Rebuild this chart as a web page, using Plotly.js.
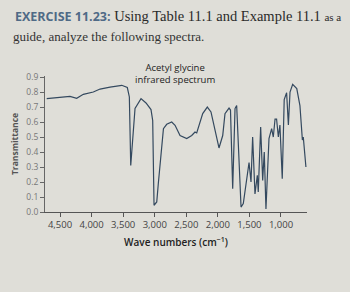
<!DOCTYPE html>
<html>
<head>
<meta charset="utf-8">
<script src="https://cdn.plot.ly/plotly-3.0.1.min.js"></script>
<style>
html,body{margin:0;padding:0;background:#dfded8;}
#chart{width:350px;height:292px;}
</style>
</head>
<body>
<div id="chart"></div>
<script>
// Wave numbers (cm^-1) and transmittance
const waveNumbers = [4711,4500,4342,4236,4131,3973,3866,3708,3523,3434,3402,3380,3312,3217,3138,3059,3032,3011,2968,2943,2862,2810,2731,2678,2599,2493,2414,2362,2335,2240,2167,2109,2045,1982,1923,1887,1823,1800,1765,1728,1702,1633,1597,1506,1475,1449,1412,1375,1360,1322,1290,1265,1238,1190,1148,1122,1094,1070,1042,1017,980,949,911,883,857,815,750,700,661,647,605];
const transmittance = [0.756,0.767,0.771,0.758,0.785,0.80,0.82,0.833,0.845,0.83,0.767,0.31,0.69,0.756,0.727,0.683,0.61,0.045,0.067,0.19,0.556,0.585,0.60,0.578,0.51,0.49,0.51,0.533,0.527,0.656,0.70,0.667,0.545,0.427,0.51,0.656,0.693,0.68,0.156,0.69,0.71,0.033,0.056,0.33,0.2,0.5,0.12,0.245,0.133,0.567,0.21,0.40,0.02,0.49,0.556,0.5,0.62,0.62,0.5,0.58,0.222,0.75,0.795,0.58,0.80,0.851,0.823,0.71,0.48,0.50,0.30];
const xTickVals = [4500,4000,3500,3000,2500,2000,1500,1000];
const xTickText = ["4,500","4,000","3,500","3,000","2,500","2,000","1,500","1,000"];
const yTickVals = [0,0.1,0.2,0.3,0.4,0.5,0.6,0.7,0.8,0.9];
const yTickText = ["0.0","0.1","0.2","0.3","0.4","0.5","0.6","0.7","0.8","0.9"];

const trace = {
  x: waveNumbers, y: transmittance, type: 'scatter', mode: 'lines',
  line: {color: '#34495f', width: 1.2}, hoverinfo: 'skip'
};

const sans = 'Open Sans, Noto Sans, sans-serif';
const layout = {
  width: 350, height: 292,
  margin: {l: 45, r: 43, t: 76, b: 80, pad: 0},
  paper_bgcolor: '#dfded8', plot_bgcolor: '#dfded8',
  showlegend: false,
  xaxis: {
    range: [4738, 588], autorange: false,
    tickvals: xTickVals, ticktext: xTickText,
    ticks: 'outside', ticklen: 4, tickcolor: '#555', tickwidth: 1,
    showline: true, linecolor: '#555', linewidth: 1,
    showgrid: false, zeroline: false,
    tickfont: {family: sans, size: 9.5, color: '#444'},
    title: {text: 'Wave numbers (cm<sup>−1</sup>)', font: {family: sans, size: 10, color: '#222', weight: 600}, standoff: 8}
  },
  yaxis: {
    range: [0, 0.907], autorange: false,
    tickvals: yTickVals, ticktext: yTickText,
    ticks: 'outside', ticklen: 4, tickcolor: '#666', tickwidth: 1,
    showline: true, linecolor: '#666', linewidth: 1,
    showgrid: false, zeroline: false,
    tickfont: {family: sans, size: 8.5, color: '#777'},
    title: {text: '<b>Transmittance</b>', font: {family: sans, size: 8.5, color: '#555'}, standoff: 6}
  },
  annotations: [
    {text: '<span style="font-family:Open Sans, sans-serif;font-size:12.5px;color:#4f6a86"><b>EXERCISE 11.23:</b></span> Using Table 11.1 and Example 11.1 <span style="font-size:11px">as a</span>',
     xref: 'paper', yref: 'paper', x: (13-45)/262, y: (212-16)/136,
     xanchor: 'left', yanchor: 'middle', showarrow: false,
     font: {family: 'Liberation Serif, serif', size: 14.5, color: '#2a2a2a'}},
    {text: 'guide, analyze the following spectra.', xref: 'paper', yref: 'paper', x: (11-45)/262, y: (212-37)/136,
     xanchor: 'left', yanchor: 'middle', showarrow: false,
     font: {family: 'Liberation Serif, serif', size: 13, color: '#333'}},
    {text: 'Acetyl glycine<br>infrared spectrum', xref: 'paper', yref: 'paper', x: (175-45)/262, y: (212-73)/136,
     xanchor: 'center', yanchor: 'middle', showarrow: false, align: 'center',
     font: {family: sans, size: 9.5, color: '#222'}}
  ]
};

Plotly.newPlot('chart', [trace], layout, {staticPlot: true, displayModeBar: false});
</script>
</body>
</html>
